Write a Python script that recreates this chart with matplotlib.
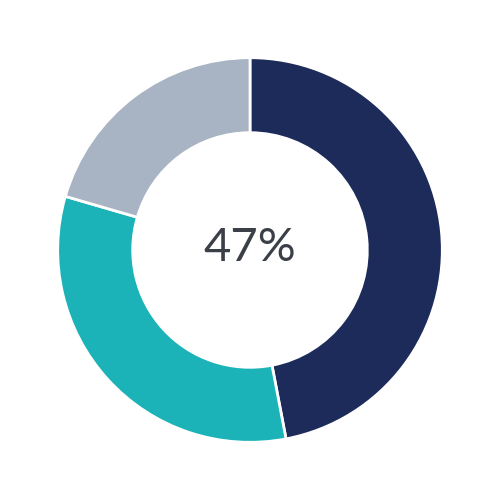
import matplotlib.pyplot as plt

# slice shares (clockwise from 12 o'clock)
labels = ["A", "B", "C"]
values = [47, 32.5, 20.5]
colors = ["#1d2b5a", "#1bb3b7", "#a8b3c3"]
center_text = "47%"

fig = plt.figure(figsize=(5, 5), dpi=100)
ax = fig.add_axes([0, 0, 1, 1])
ax.pie(values, colors=colors, startangle=90, counterclock=False, radius=1.0,
       wedgeprops=dict(width=0.39, edgecolor="white", linewidth=2))
ax.text(0, 0.01, center_text, ha="center", va="center", fontsize=34,
        family="Lato", color="#3b4048")
ax.set_xlim(-1.3, 1.3)
ax.set_ylim(-1.3, 1.3)
ax.set_aspect("equal")
ax.axis("off")

fig.savefig("out.png", dpi=100, facecolor="white")
